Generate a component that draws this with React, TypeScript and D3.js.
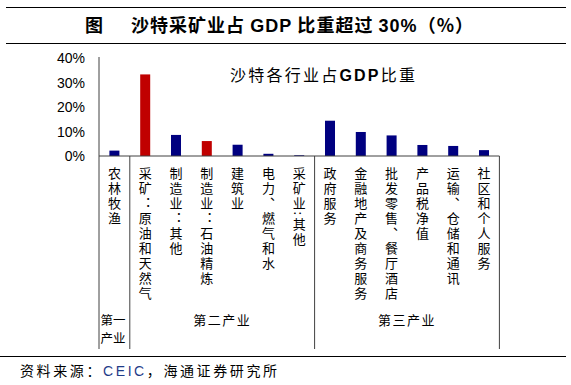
import React from "react";
import * as d3 from "d3";

const categories = [
  "农林牧渔",
  "采矿：原油和天然气",
  "制造业：其他",
  "制造业：石油精炼",
  "建筑业",
  "电力、燃气和水",
  "采矿业:其他",
  "政府服务",
  "金融地产及商务服务",
  "批发零售、餐厅酒店",
  "产品税净值",
  "运输、仓储和通讯",
  "社区和个人服务",
];
const shares = [0.022, 0.333, 0.086, 0.061, 0.046, 0.009, 0.003, 0.144, 0.098, 0.084, 0.045, 0.041, 0.024];
const highlighted = [false, true, false, true, false, false, false, false, false, false, false, false, false];
const yTicks = [0, 0.1, 0.2, 0.3, 0.4];
const groups = [
  { name: "第一产业", from: 0, to: 0 },
  { name: "第二产业", from: 1, to: 6 },
  { name: "第三产业", from: 7, to: 12 },
];

const W = 571;
const H = 385;
const CJK = "'Noto Sans CJK SC', 'Noto Sans', sans-serif";
const LATIN = "'Liberation Sans', Arial, sans-serif";

export default function App() {
  const x = d3.scaleBand<string>().domain(categories).range([99, 499.4]).paddingInner(0.675).paddingOuter(0.3375);
  const y = d3.scaleLinear().domain([0, 0.4]).range([156, 58]);
  const step = x.step();
  const bottom = 349;
  const fmt = d3.format(".0%");

  return (
    <svg width={W} height={H} style={{ position: "absolute", left: 0, top: 0, background: "#fff" }}>
      <rect x={0} y={0} width={W} height={H} fill="#fff" />
      {/* title rules */}
      <line x1={6} x2={566} y1={7.5} y2={7.5} stroke="#000" strokeWidth={1.2} />
      <line x1={6} x2={566} y1={43.5} y2={43.5} stroke="#000" strokeWidth={1.2} />
      <text x={85} y={32} fontSize={18} fontWeight="bold" fontFamily={CJK} fill="#000">图</text>
      <text x={131} y={32} fontSize={18} fontWeight="bold" fontFamily={CJK} fill="#000" textLength={342} lengthAdjust="spacing">
        沙特采矿业占 <tspan fontFamily={LATIN}>GDP</tspan> 比重超过 <tspan fontFamily={LATIN}>30%</tspan>（%）
      </text>

      {/* inner title */}
      <text x={230} y={81} fontSize={16} fontFamily={CJK} fill="#000" textLength={185} lengthAdjust="spacing">
        沙特各行业占<tspan fontFamily={LATIN} fontWeight="bold">GDP</tspan>比重
      </text>

      {/* y tick labels */}
      {yTicks.map((t) => (
        <text key={t} x={85} y={y(t) + 5} textAnchor="end" fontSize={14} fontFamily={LATIN} fill="#000">
          {fmt(t)}
        </text>
      ))}

      {/* bars */}
      {categories.map((c, i) => (
        <rect
          key={c}
          x={x(c)}
          y={y(shares[i])}
          width={x.bandwidth()}
          height={y(0) - y(shares[i])}
          fill={highlighted[i] ? "#C00000" : "#000080"}
        />
      ))}

      {/* axes & group dividers */}
      <line x1={99} x2={99} y1={57} y2={bottom} stroke="#404040" strokeWidth={1} />
      <line x1={99} x2={499.4} y1={156} y2={156} stroke="#404040" strokeWidth={1} />
      {groups.map((g) => {
        const xr = 99 + (g.to + 1) * step;
        return <line key={g.name} x1={xr} x2={xr} y1={156} y2={bottom} stroke="#404040" strokeWidth={1} />;
      })}

      {/* category labels (vertical text) */}
      {categories.map((c) => (
        <text
          key={c}
          x={(x(c) as number) + x.bandwidth() / 2}
          y={166.5}
          fontSize={13}
          fontFamily={CJK}
          fill="#000"
          style={{ writingMode: "vertical-rl", letterSpacing: "2px" }}
        >
          {c}
        </text>
      ))}

      {/* group labels */}
      {groups.map((g) => {
        const x0 = 99 + g.from * step;
        const x1 = 99 + (g.to + 1) * step;
        if (g.from === g.to) {
          return (
            <g key={g.name}>
              <text x={x0 + 1.5} y={324.5} fontSize={12.5} fontFamily={CJK} fill="#000">{g.name.slice(0, 2)}</text>
              <text x={x0 + 1.5} y={342.5} fontSize={12.5} fontFamily={CJK} fill="#000">{g.name.slice(2)}</text>
            </g>
          );
        }
        return (
          <text key={g.name} x={(x0 + x1) / 2} y={324.5} textAnchor="middle" fontSize={13} fontFamily={CJK} fill="#000" letterSpacing={1.5}>
            {g.name}
          </text>
        );
      })}

      {/* footer */}
      <line x1={0} x2={566} y1={356.5} y2={356.5} stroke="#000" strokeWidth={1.2} />
      <text x={20} y={376} fontSize={14} fontFamily={CJK} fill="#000" textLength={257} lengthAdjust="spacing">
        资料来源：<tspan fontFamily={LATIN} fill="#1F3C88">CEIC</tspan>，海通证券研究所
      </text>
    </svg>
  );
}
